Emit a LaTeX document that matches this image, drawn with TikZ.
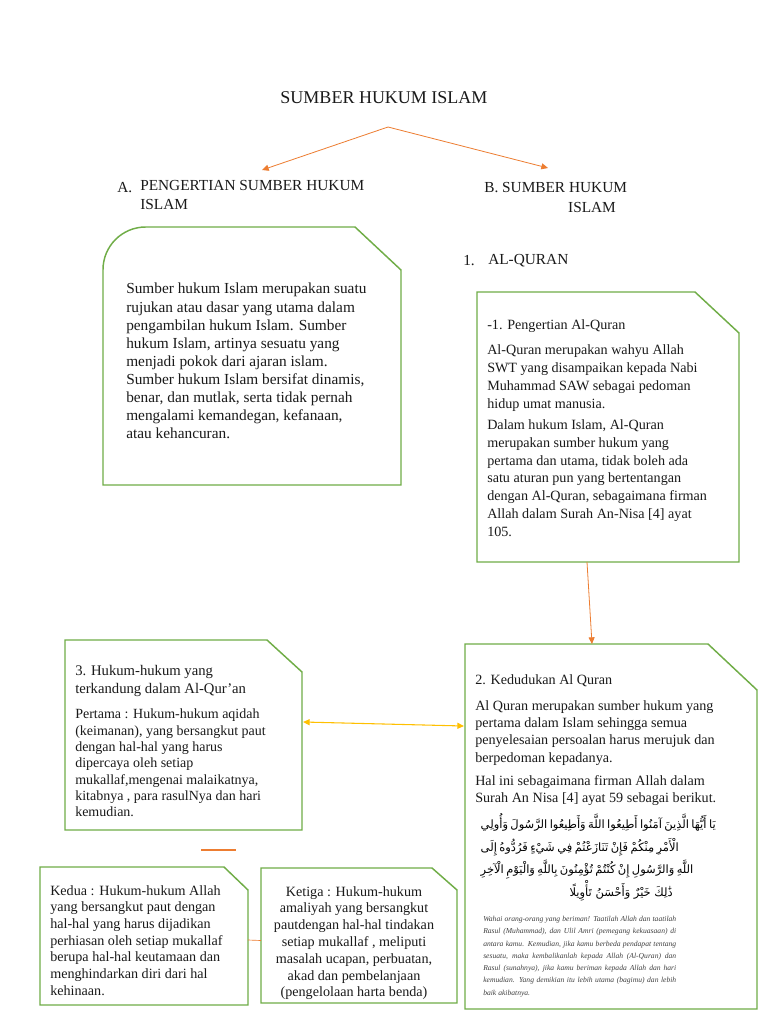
\documentclass[tikz,border=0pt]{standalone}
\usepackage{fontspec}
\setmainfont{Liberation Serif}
\newfontfamily\arabicfont[Script=Arabic]{DejaVu Sans}
\TeXXeTstate=1
\usetikzlibrary{arrows.meta,calc}
\definecolor{gr}{HTML}{70AD47}
\definecolor{orng}{HTML}{ED7D31}
\definecolor{ylw}{HTML}{FFC000}
\definecolor{txt}{HTML}{1A1A1A}
\newcommand\snipframe[3]{\draw[gline] (#1.south west) -- (#1.north west) -- ($(#1.north east)+(-#2,0)$) -- ($(#1.north east)+(0,#3)$) -- (#1.south east) -- cycle;}
\begin{document}
\begin{tikzpicture}[x=0.75pt,y=-0.75pt,
  frame/.style={inner sep=0pt, outer sep=0pt, anchor=north west, draw=none},
  gline/.style={draw=gr, line width=1.1pt},
  body/.style={inner sep=0pt, anchor=north west, align=left, text=txt},
  head/.style={inner sep=0pt, text=txt, font=\fontsize{11.5}{14}\selectfont},
  oarrow/.style={draw=orng, line width=0.6pt, -{Triangle[length=5pt,width=4.5pt]}}]
\fill[white] (0,0) rectangle (768,1024);
\useasboundingbox (0,0) rectangle (768,1024);

% title and headings
\node[inner sep=0pt, text=txt, font=\fontsize{13.5}{16}\selectfont] (title) at (384,98) {SUMBER HUKUM ISLAM};
\coordinate (split) at (388,127);
\coordinate (tipA) at (262,170);
\coordinate (tipB) at (548,168);
\node[head, anchor=west] (hAnum) at (117,188) {A.};
\node[head, anchor=north west, align=left] (hA) at (140,180) {PENGERTIAN SUMBER HUKUM\\ISLAM};
\node[head, anchor=west] (hB) at (484,188) {B. SUMBER HUKUM};
\node[head] (hB2) at (592,207) {ISLAM};
\node[head, anchor=west] (n1) at (463,261) {1.};
\node[head, anchor=west] (alq) at (488,261) {AL-QURAN};

\draw[oarrow] (split) -- (tipA);
\draw[oarrow] (split) -- (tipB);

% frames
\node[frame, minimum width=298*0.75pt, minimum height=258*0.75pt] (boxA) at (103,227) {};
\node[frame, minimum width=262*0.75pt, minimum height=270*0.75pt] (boxQ) at (477,292) {};
\node[frame, minimum width=237*0.75pt, minimum height=190*0.75pt] (box3) at (65,640) {};
\node[frame, minimum width=292*0.75pt, minimum height=365*0.75pt] (box2) at (465,644) {};
\node[frame, minimum width=208*0.75pt, minimum height=138*0.75pt] (kedua) at (40,867) {};
\node[frame, minimum width=196*0.75pt, minimum height=135*0.75pt] (ketiga) at (261,868) {};

\draw[gline] (boxA.south west) -- ($(boxA.north west)+(0,70)$) [rounded corners=32pt] -- (boxA.north west) -- ($(boxA.north west)+(90,0)$) [sharp corners] -- ($(boxA.north east)+(-46,0)$) -- ($(boxA.north east)+(0,43)$) -- (boxA.south east) -- cycle;
\snipframe{boxQ}{44}{41}
\snipframe{box3}{35}{32}
\snipframe{box2}{49}{46}
\snipframe{kedua}{24}{23}
\snipframe{ketiga}{25}{22}

% texts
\node[body, font=\fontsize{11.5}{13.6}\selectfont] (txtA) at (126,283) {Sumber hukum Islam merupakan suatu\\
rujukan atau dasar yang utama dalam\\
pengambilan hukum Islam. Sumber\\
hukum Islam, artinya sesuatu yang\\
menjadi pokok dari ajaran islam.\\
Sumber hukum Islam bersifat dinamis,\\
benar, dan mutlak, serta tidak pernah\\
mengalami kemandegan, kefanaan,\\
atau kehancuran.};

\node[body, font=\fontsize{10.6}{13.3}\selectfont] (txtQ) at (487,319) {-1. Pengertian Al-Quran\\[6pt]
Al-Quran merupakan wahyu Allah\\
SWT yang disampaikan kepada Nabi\\
Muhammad SAW sebagai pedoman\\
hidup umat manusia.\\[3pt]
Dalam hukum Islam, Al-Quran\\
merupakan sumber hukum yang\\
pertama dan utama, tidak boleh ada\\
satu aturan pun yang bertentangan\\
dengan Al-Quran, sebagaimana firman\\
Allah dalam Surah An-Nisa [4] ayat\\
105.};

\node[body, font=\fontsize{11}{13.5}\selectfont] (txt3a) at (75,665) {3. Hukum-hukum yang\\
terkandung dalam Al-Qur’an};
\node[body, font=\fontsize{10.5}{12.2}\selectfont] (txt3b) at (75,709) {Pertama : Hukum-hukum aqidah\\
(keimanan), yang bersangkut paut\\
dengan hal-hal yang harus\\
dipercaya oleh setiap\\
mukallaf,mengenai malaikatnya,\\
kitabnya , para rasulNya dan hari\\
kemudian.};

\node[body, font=\fontsize{10.6}{13}\selectfont] (txt2) at (475,674) {2. Kedudukan Al Quran\\[6.5pt]
Al Quran merupakan sumber hukum yang\\
pertama dalam Islam sehingga semua\\
penyelesaian persoalan harus merujuk dan\\
berpedoman kepadanya.\\[4.3pt]
Hal ini sebagaimana firman Allah dalam\\
Surah An Nisa [4] ayat 59 sebagai berikut.};

\node[inner sep=0pt, anchor=north east, text=black, font=\arabicfont\fontsize{8.6}{17}\selectfont] (verse) at (677,813) {\vbox{\baselineskip=17pt
\hbox to 147pt{\beginR يَا أَيُّهَا الَّذِينَ آمَنُوا أَطِيعُوا اللَّهَ وَأَطِيعُوا الرَّسُولَ وَأُولِي\endR}
\hbox to 147pt{\beginR الْأَمْرِ مِنْكُمْ فَإِنْ تَنَازَعْتُمْ فِي شَيْءٍ فَرُدُّوهُ إِلَى\endR}
\hbox to 147pt{\beginR اللَّهِ وَالرَّسُولِ إِنْ كُنْتُمْ تُؤْمِنُونَ بِاللَّهِ وَالْيَوْمِ الْآخِرِ\endR}
\hbox to 147pt{\hfill\beginR ذَٰلِكَ خَيْرٌ وَأَحْسَنُ تَأْوِيلًا\endR\hspace{3pt}}}};

\node[inner sep=0pt, anchor=north west, text width=144.75pt, align=justify, text=black!75, font=\fontsize{5.7}{9.2}\selectfont\itshape] (trans) at (483,916) {\tolerance=10000\hyphenpenalty=10000\relax
Wahai orang-orang yang beriman! Taatilah Allah dan taatilah\linebreak
Rasul (Muhammad), dan Ulil Amri (pemegang kekuasaan) di\linebreak
antara kamu. Kemudian, jika kamu berbeda pendapat tentang\linebreak
sesuatu, maka kembalikanlah kepada Allah (Al-Quran) dan\linebreak
Rasul (sunahnya), jika kamu beriman kepada Allah dan hari\linebreak
kemudian. Yang demikian itu lebih utama (bagimu) dan lebih\linebreak
baik akibatnya.};

\node[body, font=\fontsize{10.6}{12.5}\selectfont] (txtK2) at (50,885) {Kedua : Hukum-hukum Allah\\
yang bersangkut paut dengan\\
hal-hal yang harus dijadikan\\
perhiasan oleh setiap mukallaf\\
berupa hal-hal keutamaan dan\\
menghindarkan diri dari hal\\
kehinaan.};

\node[body, anchor=north, align=center, font=\fontsize{10.6}{12.6}\selectfont] (txtK3) at (354,886) {Ketiga : Hukum-hukum\\
amaliyah yang bersangkut\\
pautdengan hal-hal tindakan\\
setiap mukallaf , meliputi\\
masalah ucapan, perbuatan,\\
akad dan pembelanjaan\\
(pengelolaan harta benda)};

% connectors
\draw[oarrow] ($(boxQ.south west)+(110,0)$) -- ($(box2.north west)+(127,0)$);
\draw[draw=ylw, line width=0.8pt, {Triangle[length=5pt,width=4.5pt]}-{Triangle[length=5pt,width=4.5pt]}] ($(box3.north east)+(1,82)$) -- ($(box2.north west)+(-1,82)$);
\coordinate (dashL) at (201,850);
\coordinate (dashR) at (236,850);
\draw[orng, line width=0.8pt] (dashL) -- (dashR);
\draw[orng, line width=0.5pt] ($(kedua.east)+(0,4)$) -- ($(ketiga.west)+(0,5)$);
\end{tikzpicture}
\end{document}
